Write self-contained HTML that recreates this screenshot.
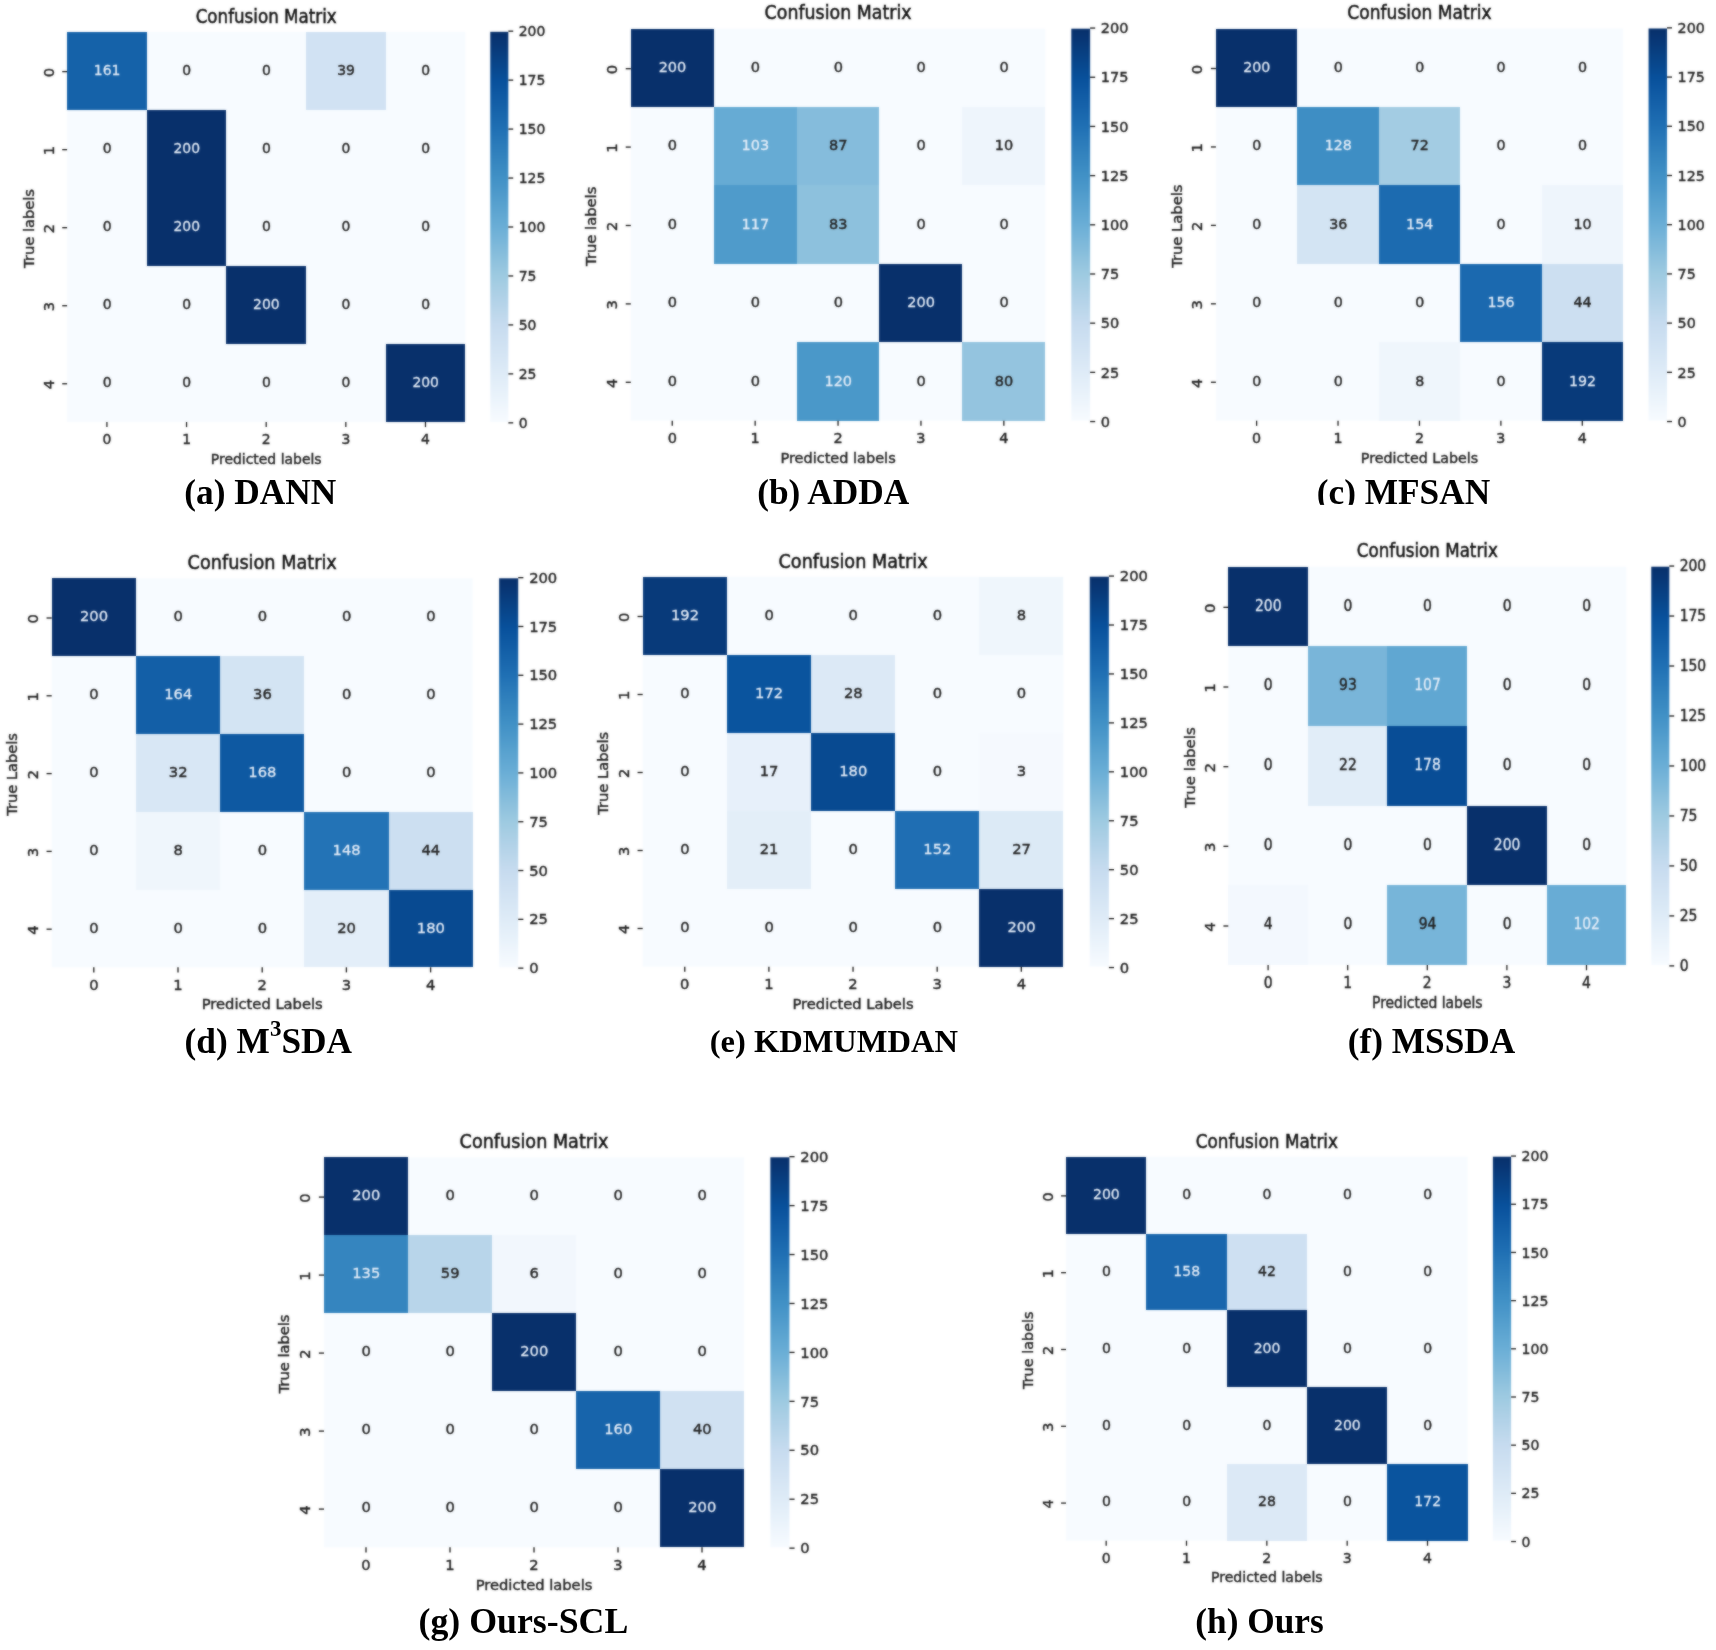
<!DOCTYPE html>
<html lang="en"><head><meta charset="utf-8"><title>Confusion Matrices</title>
<style>html,body{margin:0;padding:0;background:#fff}body{width:1716px;height:1650px;overflow:hidden}svg{display:block}text{font-family:"DejaVu Sans","Liberation Sans",sans-serif;font-size:13.89px;fill:#222;stroke:#222;stroke-width:0.4}.ti{font-size:16.67px;fill:#111;stroke:#111;stroke-width:0.45}.m{text-anchor:middle}.w{fill:#e6eef9;stroke:#e6eef9;stroke-width:0.25}.cap{font-family:"Liberation Serif","DejaVu Serif",serif;font-weight:bold;fill:#000;stroke:none;text-anchor:middle}line{stroke:#1a1a1a;stroke-width:1.25}.c{shape-rendering:crispEdges}</style></head><body>
<svg width="1716" height="1650" viewBox="0 0 1716 1650">
<defs><linearGradient id="blues" x1="0" y1="1" x2="0" y2="0">
<stop offset="0.0000" stop-color="#f7fbff"/>
<stop offset="0.0312" stop-color="#f1f7fd"/>
<stop offset="0.0625" stop-color="#eaf3fb"/>
<stop offset="0.0938" stop-color="#e4eff9"/>
<stop offset="0.1250" stop-color="#deebf7"/>
<stop offset="0.1562" stop-color="#d8e7f5"/>
<stop offset="0.1875" stop-color="#d2e3f3"/>
<stop offset="0.2188" stop-color="#ccdff1"/>
<stop offset="0.2500" stop-color="#c6dbef"/>
<stop offset="0.2812" stop-color="#bcd7eb"/>
<stop offset="0.3125" stop-color="#b2d2e8"/>
<stop offset="0.3438" stop-color="#a8cee4"/>
<stop offset="0.3750" stop-color="#9dcae1"/>
<stop offset="0.4062" stop-color="#91c3de"/>
<stop offset="0.4375" stop-color="#84bcdb"/>
<stop offset="0.4688" stop-color="#77b5d9"/>
<stop offset="0.5000" stop-color="#6aaed6"/>
<stop offset="0.5312" stop-color="#60a7d2"/>
<stop offset="0.5625" stop-color="#56a0ce"/>
<stop offset="0.5938" stop-color="#4b98ca"/>
<stop offset="0.6250" stop-color="#4191c6"/>
<stop offset="0.6562" stop-color="#3989c1"/>
<stop offset="0.6875" stop-color="#3181bd"/>
<stop offset="0.7188" stop-color="#2979b9"/>
<stop offset="0.7500" stop-color="#2070b4"/>
<stop offset="0.7812" stop-color="#1a68ae"/>
<stop offset="0.8125" stop-color="#1460a8"/>
<stop offset="0.8438" stop-color="#0e58a2"/>
<stop offset="0.8750" stop-color="#08509b"/>
<stop offset="0.9062" stop-color="#08488e"/>
<stop offset="0.9375" stop-color="#084082"/>
<stop offset="0.9688" stop-color="#083776"/>
<stop offset="1.0000" stop-color="#08306b"/>
</linearGradient>
<filter id="bl" color-interpolation-filters="sRGB" x="0" y="0" width="1716" height="1650" filterUnits="userSpaceOnUse"><feGaussianBlur in="SourceGraphic" stdDeviation="0.9" result="b"/><feComposite in="SourceGraphic" in2="b" operator="arithmetic" k1="0" k2="0.45" k3="0.55" k4="0"/></filter></defs>
<g filter="url(#bl)">
<rect width="1716" height="1650" fill="#fff"/>
<g transform="translate(67.1 31.8) scale(1.0035 1.0557)">
<rect width="396.8" height="369.6" fill="#f7fbff"/>
<rect class="c" x="0" y="0" width="79.36" height="73.92" fill="#1562a9"/>
<rect class="c" x="238.08" y="0" width="79.36" height="73.92" fill="#d1e2f3"/>
<rect class="c" x="79.36" y="73.92" width="79.36" height="73.92" fill="#08306b"/>
<rect class="c" x="79.36" y="147.84" width="79.36" height="73.92" fill="#08306b"/>
<rect class="c" x="158.72" y="221.76" width="79.36" height="73.92" fill="#08306b"/>
<rect class="c" x="317.44" y="295.68" width="79.36" height="73.92" fill="#08306b"/>
<text class="m w" transform="translate(39.88 40.86) scale(1 1)">161</text>
<text class="m" transform="translate(119.24 40.86) scale(1 1)">0</text>
<text class="m" transform="translate(198.6 40.86) scale(1 1)">0</text>
<text class="m" transform="translate(277.96 40.86) scale(1 1)">39</text>
<text class="m" transform="translate(357.32 40.86) scale(1 1)">0</text>
<text class="m" transform="translate(39.88 114.78) scale(1 1)">0</text>
<text class="m w" transform="translate(119.24 114.78) scale(1 1)">200</text>
<text class="m" transform="translate(198.6 114.78) scale(1 1)">0</text>
<text class="m" transform="translate(277.96 114.78) scale(1 1)">0</text>
<text class="m" transform="translate(357.32 114.78) scale(1 1)">0</text>
<text class="m" transform="translate(39.88 188.7) scale(1 1)">0</text>
<text class="m w" transform="translate(119.24 188.7) scale(1 1)">200</text>
<text class="m" transform="translate(198.6 188.7) scale(1 1)">0</text>
<text class="m" transform="translate(277.96 188.7) scale(1 1)">0</text>
<text class="m" transform="translate(357.32 188.7) scale(1 1)">0</text>
<text class="m" transform="translate(39.88 262.62) scale(1 1)">0</text>
<text class="m" transform="translate(119.24 262.62) scale(1 1)">0</text>
<text class="m w" transform="translate(198.6 262.62) scale(1 1)">200</text>
<text class="m" transform="translate(277.96 262.62) scale(1 1)">0</text>
<text class="m" transform="translate(357.32 262.62) scale(1 1)">0</text>
<text class="m" transform="translate(39.88 336.54) scale(1 1)">0</text>
<text class="m" transform="translate(119.24 336.54) scale(1 1)">0</text>
<text class="m" transform="translate(198.6 336.54) scale(1 1)">0</text>
<text class="m" transform="translate(277.96 336.54) scale(1 1)">0</text>
<text class="m w" transform="translate(357.32 336.54) scale(1 1)">200</text>
<text class="ti m" transform="translate(198.4 -8.7) scale(1 1.11)">Confusion Matrix</text>
<line x1="39.68" y1="369.6" x2="39.68" y2="374.46"/>
<text class="m" transform="translate(39.68 390.8) scale(1 1)">0</text>
<line x1="-4.86" y1="37.71" x2="-0" y2="37.71"/>
<text class="m" transform="translate(-13.1 38.61) rotate(-90) scale(1 1)">0</text>
<line x1="119.04" y1="369.6" x2="119.04" y2="374.46"/>
<text class="m" transform="translate(119.04 390.8) scale(1 1)">1</text>
<line x1="-4.86" y1="111.63" x2="-0" y2="111.63"/>
<text class="m" transform="translate(-13.1 112.53) rotate(-90) scale(1 1)">1</text>
<line x1="198.4" y1="369.6" x2="198.4" y2="374.46"/>
<text class="m" transform="translate(198.4 390.8) scale(1 1)">2</text>
<line x1="-4.86" y1="185.55" x2="-0" y2="185.55"/>
<text class="m" transform="translate(-13.1 186.45) rotate(-90) scale(1 1)">2</text>
<line x1="277.76" y1="369.6" x2="277.76" y2="374.46"/>
<text class="m" transform="translate(277.76 390.8) scale(1 1)">3</text>
<line x1="-4.86" y1="259.47" x2="-0" y2="259.47"/>
<text class="m" transform="translate(-13.1 260.37) rotate(-90) scale(1 1)">3</text>
<line x1="357.12" y1="369.6" x2="357.12" y2="374.46"/>
<text class="m" transform="translate(357.12 390.8) scale(1 1)">4</text>
<line x1="-4.86" y1="333.39" x2="-0" y2="333.39"/>
<text class="m" transform="translate(-13.1 334.29) rotate(-90) scale(1 1)">4</text>
<text class="m" transform="translate(198.4 409.6) scale(1 1)">Predicted labels</text>
<text class="m" transform="translate(-33 186.3) rotate(-90) scale(1 1)">True labels</text>
<rect x="421.7" y="0" width="18" height="369.6" fill="url(#blues)"/>
<line x1="439.7" y1="370.4" x2="444.56" y2="370.4"/>
<text transform="translate(450 375.3) scale(1 1)">0</text>
<line x1="439.7" y1="324.03" x2="444.56" y2="324.03"/>
<text transform="translate(450 328.93) scale(1 1)">25</text>
<line x1="439.7" y1="277.65" x2="444.56" y2="277.65"/>
<text transform="translate(450 282.55) scale(1 1)">50</text>
<line x1="439.7" y1="231.28" x2="444.56" y2="231.28"/>
<text transform="translate(450 236.18) scale(1 1)">75</text>
<line x1="439.7" y1="184.9" x2="444.56" y2="184.9"/>
<text transform="translate(450 189.8) scale(1 1)">100</text>
<line x1="439.7" y1="138.53" x2="444.56" y2="138.53"/>
<text transform="translate(450 143.43) scale(1 1)">125</text>
<line x1="439.7" y1="92.15" x2="444.56" y2="92.15"/>
<text transform="translate(450 97.05) scale(1 1)">150</text>
<line x1="439.7" y1="45.78" x2="444.56" y2="45.78"/>
<text transform="translate(450 50.68) scale(1 1)">175</text>
<line x1="439.7" y1="-0.6" x2="444.56" y2="-0.6"/>
<text transform="translate(450 4.3) scale(1 1)">200</text>
</g>
<g transform="translate(630.8 28.7) scale(1.0446 1.0606)">
<rect width="396.8" height="369.6" fill="#f7fbff"/>
<rect class="c" x="0" y="0" width="79.36" height="73.92" fill="#08306b"/>
<rect class="c" x="79.36" y="73.92" width="79.36" height="73.92" fill="#66abd4"/>
<rect class="c" x="158.72" y="73.92" width="79.36" height="73.92" fill="#85bcdc"/>
<rect class="c" x="317.44" y="73.92" width="79.36" height="73.92" fill="#eef5fc"/>
<rect class="c" x="79.36" y="147.84" width="79.36" height="73.92" fill="#4f9bcb"/>
<rect class="c" x="158.72" y="147.84" width="79.36" height="73.92" fill="#8dc1dd"/>
<rect class="c" x="238.08" y="221.76" width="79.36" height="73.92" fill="#08306b"/>
<rect class="c" x="158.72" y="295.68" width="79.36" height="73.92" fill="#4a98c9"/>
<rect class="c" x="317.44" y="295.68" width="79.36" height="73.92" fill="#94c4df"/>
<text class="m w" transform="translate(39.88 40.86) scale(1 1)">200</text>
<text class="m" transform="translate(119.24 40.86) scale(1 1)">0</text>
<text class="m" transform="translate(198.6 40.86) scale(1 1)">0</text>
<text class="m" transform="translate(277.96 40.86) scale(1 1)">0</text>
<text class="m" transform="translate(357.32 40.86) scale(1 1)">0</text>
<text class="m" transform="translate(39.88 114.78) scale(1 1)">0</text>
<text class="m w" transform="translate(119.24 114.78) scale(1 1)">103</text>
<text class="m" transform="translate(198.6 114.78) scale(1 1)">87</text>
<text class="m" transform="translate(277.96 114.78) scale(1 1)">0</text>
<text class="m" transform="translate(357.32 114.78) scale(1 1)">10</text>
<text class="m" transform="translate(39.88 188.7) scale(1 1)">0</text>
<text class="m w" transform="translate(119.24 188.7) scale(1 1)">117</text>
<text class="m" transform="translate(198.6 188.7) scale(1 1)">83</text>
<text class="m" transform="translate(277.96 188.7) scale(1 1)">0</text>
<text class="m" transform="translate(357.32 188.7) scale(1 1)">0</text>
<text class="m" transform="translate(39.88 262.62) scale(1 1)">0</text>
<text class="m" transform="translate(119.24 262.62) scale(1 1)">0</text>
<text class="m" transform="translate(198.6 262.62) scale(1 1)">0</text>
<text class="m w" transform="translate(277.96 262.62) scale(1 1)">200</text>
<text class="m" transform="translate(357.32 262.62) scale(1 1)">0</text>
<text class="m" transform="translate(39.88 336.54) scale(1 1)">0</text>
<text class="m" transform="translate(119.24 336.54) scale(1 1)">0</text>
<text class="m w" transform="translate(198.6 336.54) scale(1 1)">120</text>
<text class="m" transform="translate(277.96 336.54) scale(1 1)">0</text>
<text class="m" transform="translate(357.32 336.54) scale(1 1)">80</text>
<text class="ti m" transform="translate(198.4 -8.7) scale(1 1.11)">Confusion Matrix</text>
<line x1="39.68" y1="369.6" x2="39.68" y2="374.46"/>
<text class="m" transform="translate(39.68 390.8) scale(1 1)">0</text>
<line x1="-4.86" y1="37.71" x2="-0" y2="37.71"/>
<text class="m" transform="translate(-13.1 38.61) rotate(-90) scale(1 1)">0</text>
<line x1="119.04" y1="369.6" x2="119.04" y2="374.46"/>
<text class="m" transform="translate(119.04 390.8) scale(1 1)">1</text>
<line x1="-4.86" y1="111.63" x2="-0" y2="111.63"/>
<text class="m" transform="translate(-13.1 112.53) rotate(-90) scale(1 1)">1</text>
<line x1="198.4" y1="369.6" x2="198.4" y2="374.46"/>
<text class="m" transform="translate(198.4 390.8) scale(1 1)">2</text>
<line x1="-4.86" y1="185.55" x2="-0" y2="185.55"/>
<text class="m" transform="translate(-13.1 186.45) rotate(-90) scale(1 1)">2</text>
<line x1="277.76" y1="369.6" x2="277.76" y2="374.46"/>
<text class="m" transform="translate(277.76 390.8) scale(1 1)">3</text>
<line x1="-4.86" y1="259.47" x2="-0" y2="259.47"/>
<text class="m" transform="translate(-13.1 260.37) rotate(-90) scale(1 1)">3</text>
<line x1="357.12" y1="369.6" x2="357.12" y2="374.46"/>
<text class="m" transform="translate(357.12 390.8) scale(1 1)">4</text>
<line x1="-4.86" y1="333.39" x2="-0" y2="333.39"/>
<text class="m" transform="translate(-13.1 334.29) rotate(-90) scale(1 1)">4</text>
<text class="m" transform="translate(198.4 409.6) scale(1 1)">Predicted labels</text>
<text class="m" transform="translate(-33 186.3) rotate(-90) scale(1 1)">True labels</text>
<rect x="421.7" y="0" width="18" height="369.6" fill="url(#blues)"/>
<line x1="439.7" y1="370.4" x2="444.56" y2="370.4"/>
<text transform="translate(450 375.3) scale(1 1)">0</text>
<line x1="439.7" y1="324.03" x2="444.56" y2="324.03"/>
<text transform="translate(450 328.93) scale(1 1)">25</text>
<line x1="439.7" y1="277.65" x2="444.56" y2="277.65"/>
<text transform="translate(450 282.55) scale(1 1)">50</text>
<line x1="439.7" y1="231.28" x2="444.56" y2="231.28"/>
<text transform="translate(450 236.18) scale(1 1)">75</text>
<line x1="439.7" y1="184.9" x2="444.56" y2="184.9"/>
<text transform="translate(450 189.8) scale(1 1)">100</text>
<line x1="439.7" y1="138.53" x2="444.56" y2="138.53"/>
<text transform="translate(450 143.43) scale(1 1)">125</text>
<line x1="439.7" y1="92.15" x2="444.56" y2="92.15"/>
<text transform="translate(450 97.05) scale(1 1)">150</text>
<line x1="439.7" y1="45.78" x2="444.56" y2="45.78"/>
<text transform="translate(450 50.68) scale(1 1)">175</text>
<line x1="439.7" y1="-0.6" x2="444.56" y2="-0.6"/>
<text transform="translate(450 4.3) scale(1 1)">200</text>
</g>
<g transform="translate(1215.9 28.5) scale(1.0260 1.0611)">
<rect width="396.8" height="369.6" fill="#f7fbff"/>
<rect class="c" x="0" y="0" width="79.36" height="73.92" fill="#08306b"/>
<rect class="c" x="79.36" y="73.92" width="79.36" height="73.92" fill="#3e8ec4"/>
<rect class="c" x="158.72" y="73.92" width="79.36" height="73.92" fill="#a3cce3"/>
<rect class="c" x="79.36" y="147.84" width="79.36" height="73.92" fill="#d3e4f3"/>
<rect class="c" x="158.72" y="147.84" width="79.36" height="73.92" fill="#1c6bb0"/>
<rect class="c" x="317.44" y="147.84" width="79.36" height="73.92" fill="#eef5fc"/>
<rect class="c" x="238.08" y="221.76" width="79.36" height="73.92" fill="#1b69af"/>
<rect class="c" x="317.44" y="221.76" width="79.36" height="73.92" fill="#ccdff1"/>
<rect class="c" x="158.72" y="295.68" width="79.36" height="73.92" fill="#eff6fc"/>
<rect class="c" x="317.44" y="295.68" width="79.36" height="73.92" fill="#083a7a"/>
<text class="m w" transform="translate(39.88 40.86) scale(1 1)">200</text>
<text class="m" transform="translate(119.24 40.86) scale(1 1)">0</text>
<text class="m" transform="translate(198.6 40.86) scale(1 1)">0</text>
<text class="m" transform="translate(277.96 40.86) scale(1 1)">0</text>
<text class="m" transform="translate(357.32 40.86) scale(1 1)">0</text>
<text class="m" transform="translate(39.88 114.78) scale(1 1)">0</text>
<text class="m w" transform="translate(119.24 114.78) scale(1 1)">128</text>
<text class="m" transform="translate(198.6 114.78) scale(1 1)">72</text>
<text class="m" transform="translate(277.96 114.78) scale(1 1)">0</text>
<text class="m" transform="translate(357.32 114.78) scale(1 1)">0</text>
<text class="m" transform="translate(39.88 188.7) scale(1 1)">0</text>
<text class="m" transform="translate(119.24 188.7) scale(1 1)">36</text>
<text class="m w" transform="translate(198.6 188.7) scale(1 1)">154</text>
<text class="m" transform="translate(277.96 188.7) scale(1 1)">0</text>
<text class="m" transform="translate(357.32 188.7) scale(1 1)">10</text>
<text class="m" transform="translate(39.88 262.62) scale(1 1)">0</text>
<text class="m" transform="translate(119.24 262.62) scale(1 1)">0</text>
<text class="m" transform="translate(198.6 262.62) scale(1 1)">0</text>
<text class="m w" transform="translate(277.96 262.62) scale(1 1)">156</text>
<text class="m" transform="translate(357.32 262.62) scale(1 1)">44</text>
<text class="m" transform="translate(39.88 336.54) scale(1 1)">0</text>
<text class="m" transform="translate(119.24 336.54) scale(1 1)">0</text>
<text class="m" transform="translate(198.6 336.54) scale(1 1)">8</text>
<text class="m" transform="translate(277.96 336.54) scale(1 1)">0</text>
<text class="m w" transform="translate(357.32 336.54) scale(1 1)">192</text>
<text class="ti m" transform="translate(198.4 -8.7) scale(1 1.11)">Confusion Matrix</text>
<line x1="39.68" y1="369.6" x2="39.68" y2="374.46"/>
<text class="m" transform="translate(39.68 390.8) scale(1 1)">0</text>
<line x1="-4.86" y1="37.71" x2="-0" y2="37.71"/>
<text class="m" transform="translate(-13.1 38.61) rotate(-90) scale(1 1)">0</text>
<line x1="119.04" y1="369.6" x2="119.04" y2="374.46"/>
<text class="m" transform="translate(119.04 390.8) scale(1 1)">1</text>
<line x1="-4.86" y1="111.63" x2="-0" y2="111.63"/>
<text class="m" transform="translate(-13.1 112.53) rotate(-90) scale(1 1)">1</text>
<line x1="198.4" y1="369.6" x2="198.4" y2="374.46"/>
<text class="m" transform="translate(198.4 390.8) scale(1 1)">2</text>
<line x1="-4.86" y1="185.55" x2="-0" y2="185.55"/>
<text class="m" transform="translate(-13.1 186.45) rotate(-90) scale(1 1)">2</text>
<line x1="277.76" y1="369.6" x2="277.76" y2="374.46"/>
<text class="m" transform="translate(277.76 390.8) scale(1 1)">3</text>
<line x1="-4.86" y1="259.47" x2="-0" y2="259.47"/>
<text class="m" transform="translate(-13.1 260.37) rotate(-90) scale(1 1)">3</text>
<line x1="357.12" y1="369.6" x2="357.12" y2="374.46"/>
<text class="m" transform="translate(357.12 390.8) scale(1 1)">4</text>
<line x1="-4.86" y1="333.39" x2="-0" y2="333.39"/>
<text class="m" transform="translate(-13.1 334.29) rotate(-90) scale(1 1)">4</text>
<text class="m" transform="translate(198.4 409.6) scale(1 1)">Predicted Labels</text>
<text class="m" transform="translate(-33 186.3) rotate(-90) scale(1 1)">True Labels</text>
<rect x="421.7" y="0" width="18" height="369.6" fill="url(#blues)"/>
<line x1="439.7" y1="370.4" x2="444.56" y2="370.4"/>
<text transform="translate(450 375.3) scale(1 1)">0</text>
<line x1="439.7" y1="324.03" x2="444.56" y2="324.03"/>
<text transform="translate(450 328.93) scale(1 1)">25</text>
<line x1="439.7" y1="277.65" x2="444.56" y2="277.65"/>
<text transform="translate(450 282.55) scale(1 1)">50</text>
<line x1="439.7" y1="231.28" x2="444.56" y2="231.28"/>
<text transform="translate(450 236.18) scale(1 1)">75</text>
<line x1="439.7" y1="184.9" x2="444.56" y2="184.9"/>
<text transform="translate(450 189.8) scale(1 1)">100</text>
<line x1="439.7" y1="138.53" x2="444.56" y2="138.53"/>
<text transform="translate(450 143.43) scale(1 1)">125</text>
<line x1="439.7" y1="92.15" x2="444.56" y2="92.15"/>
<text transform="translate(450 97.05) scale(1 1)">150</text>
<line x1="439.7" y1="45.78" x2="444.56" y2="45.78"/>
<text transform="translate(450 50.68) scale(1 1)">175</text>
<line x1="439.7" y1="-0.6" x2="444.56" y2="-0.6"/>
<text transform="translate(450 4.3) scale(1 1)">200</text>
</g>
<g transform="translate(51.7 578.3) scale(1.0610 1.0525)">
<rect width="396.8" height="369.6" fill="#f7fbff"/>
<rect class="c" x="0" y="0" width="79.36" height="73.92" fill="#08306b"/>
<rect class="c" x="79.36" y="73.92" width="79.36" height="73.92" fill="#135fa7"/>
<rect class="c" x="158.72" y="73.92" width="79.36" height="73.92" fill="#d3e4f3"/>
<rect class="c" x="79.36" y="147.84" width="79.36" height="73.92" fill="#d8e7f5"/>
<rect class="c" x="158.72" y="147.84" width="79.36" height="73.92" fill="#0e59a2"/>
<rect class="c" x="79.36" y="221.76" width="79.36" height="73.92" fill="#eff6fc"/>
<rect class="c" x="238.08" y="221.76" width="79.36" height="73.92" fill="#2373b6"/>
<rect class="c" x="317.44" y="221.76" width="79.36" height="73.92" fill="#ccdff1"/>
<rect class="c" x="238.08" y="295.68" width="79.36" height="73.92" fill="#e3eef9"/>
<rect class="c" x="317.44" y="295.68" width="79.36" height="73.92" fill="#084a91"/>
<text class="m w" transform="translate(39.88 40.86) scale(1 1)">200</text>
<text class="m" transform="translate(119.24 40.86) scale(1 1)">0</text>
<text class="m" transform="translate(198.6 40.86) scale(1 1)">0</text>
<text class="m" transform="translate(277.96 40.86) scale(1 1)">0</text>
<text class="m" transform="translate(357.32 40.86) scale(1 1)">0</text>
<text class="m" transform="translate(39.88 114.78) scale(1 1)">0</text>
<text class="m w" transform="translate(119.24 114.78) scale(1 1)">164</text>
<text class="m" transform="translate(198.6 114.78) scale(1 1)">36</text>
<text class="m" transform="translate(277.96 114.78) scale(1 1)">0</text>
<text class="m" transform="translate(357.32 114.78) scale(1 1)">0</text>
<text class="m" transform="translate(39.88 188.7) scale(1 1)">0</text>
<text class="m" transform="translate(119.24 188.7) scale(1 1)">32</text>
<text class="m w" transform="translate(198.6 188.7) scale(1 1)">168</text>
<text class="m" transform="translate(277.96 188.7) scale(1 1)">0</text>
<text class="m" transform="translate(357.32 188.7) scale(1 1)">0</text>
<text class="m" transform="translate(39.88 262.62) scale(1 1)">0</text>
<text class="m" transform="translate(119.24 262.62) scale(1 1)">8</text>
<text class="m" transform="translate(198.6 262.62) scale(1 1)">0</text>
<text class="m w" transform="translate(277.96 262.62) scale(1 1)">148</text>
<text class="m" transform="translate(357.32 262.62) scale(1 1)">44</text>
<text class="m" transform="translate(39.88 336.54) scale(1 1)">0</text>
<text class="m" transform="translate(119.24 336.54) scale(1 1)">0</text>
<text class="m" transform="translate(198.6 336.54) scale(1 1)">0</text>
<text class="m" transform="translate(277.96 336.54) scale(1 1)">20</text>
<text class="m w" transform="translate(357.32 336.54) scale(1 1)">180</text>
<text class="ti m" transform="translate(198.4 -8.7) scale(1 1.11)">Confusion Matrix</text>
<line x1="39.68" y1="369.6" x2="39.68" y2="374.46"/>
<text class="m" transform="translate(39.68 390.8) scale(1 1)">0</text>
<line x1="-4.86" y1="37.71" x2="-0" y2="37.71"/>
<text class="m" transform="translate(-13.1 38.61) rotate(-90) scale(1 1)">0</text>
<line x1="119.04" y1="369.6" x2="119.04" y2="374.46"/>
<text class="m" transform="translate(119.04 390.8) scale(1 1)">1</text>
<line x1="-4.86" y1="111.63" x2="-0" y2="111.63"/>
<text class="m" transform="translate(-13.1 112.53) rotate(-90) scale(1 1)">1</text>
<line x1="198.4" y1="369.6" x2="198.4" y2="374.46"/>
<text class="m" transform="translate(198.4 390.8) scale(1 1)">2</text>
<line x1="-4.86" y1="185.55" x2="-0" y2="185.55"/>
<text class="m" transform="translate(-13.1 186.45) rotate(-90) scale(1 1)">2</text>
<line x1="277.76" y1="369.6" x2="277.76" y2="374.46"/>
<text class="m" transform="translate(277.76 390.8) scale(1 1)">3</text>
<line x1="-4.86" y1="259.47" x2="-0" y2="259.47"/>
<text class="m" transform="translate(-13.1 260.37) rotate(-90) scale(1 1)">3</text>
<line x1="357.12" y1="369.6" x2="357.12" y2="374.46"/>
<text class="m" transform="translate(357.12 390.8) scale(1 1)">4</text>
<line x1="-4.86" y1="333.39" x2="-0" y2="333.39"/>
<text class="m" transform="translate(-13.1 334.29) rotate(-90) scale(1 1)">4</text>
<text class="m" transform="translate(198.4 409.6) scale(1 1)">Predicted Labels</text>
<text class="m" transform="translate(-33 186.3) rotate(-90) scale(1 1)">True Labels</text>
<rect x="421.7" y="0" width="18" height="369.6" fill="url(#blues)"/>
<line x1="439.7" y1="370.4" x2="444.56" y2="370.4"/>
<text transform="translate(450 375.3) scale(1 1)">0</text>
<line x1="439.7" y1="324.03" x2="444.56" y2="324.03"/>
<text transform="translate(450 328.93) scale(1 1)">25</text>
<line x1="439.7" y1="277.65" x2="444.56" y2="277.65"/>
<text transform="translate(450 282.55) scale(1 1)">50</text>
<line x1="439.7" y1="231.28" x2="444.56" y2="231.28"/>
<text transform="translate(450 236.18) scale(1 1)">75</text>
<line x1="439.7" y1="184.9" x2="444.56" y2="184.9"/>
<text transform="translate(450 189.8) scale(1 1)">100</text>
<line x1="439.7" y1="138.53" x2="444.56" y2="138.53"/>
<text transform="translate(450 143.43) scale(1 1)">125</text>
<line x1="439.7" y1="92.15" x2="444.56" y2="92.15"/>
<text transform="translate(450 97.05) scale(1 1)">150</text>
<line x1="439.7" y1="45.78" x2="444.56" y2="45.78"/>
<text transform="translate(450 50.68) scale(1 1)">175</text>
<line x1="439.7" y1="-0.6" x2="444.56" y2="-0.6"/>
<text transform="translate(450 4.3) scale(1 1)">200</text>
</g>
<g transform="translate(642.7 576.7) scale(1.0602 1.0552)">
<rect width="396.8" height="369.6" fill="#f7fbff"/>
<rect class="c" x="0" y="0" width="79.36" height="73.92" fill="#083a7a"/>
<rect class="c" x="317.44" y="0" width="79.36" height="73.92" fill="#eff6fc"/>
<rect class="c" x="79.36" y="73.92" width="79.36" height="73.92" fill="#0a549e"/>
<rect class="c" x="158.72" y="73.92" width="79.36" height="73.92" fill="#dce9f6"/>
<rect class="c" x="79.36" y="147.84" width="79.36" height="73.92" fill="#e7f0fa"/>
<rect class="c" x="158.72" y="147.84" width="79.36" height="73.92" fill="#084a91"/>
<rect class="c" x="317.44" y="147.84" width="79.36" height="73.92" fill="#f5f9fe"/>
<rect class="c" x="79.36" y="221.76" width="79.36" height="73.92" fill="#e3eef8"/>
<rect class="c" x="238.08" y="221.76" width="79.36" height="73.92" fill="#1f6eb3"/>
<rect class="c" x="317.44" y="221.76" width="79.36" height="73.92" fill="#dceaf6"/>
<rect class="c" x="317.44" y="295.68" width="79.36" height="73.92" fill="#08306b"/>
<text class="m w" transform="translate(39.88 40.86) scale(1 1)">192</text>
<text class="m" transform="translate(119.24 40.86) scale(1 1)">0</text>
<text class="m" transform="translate(198.6 40.86) scale(1 1)">0</text>
<text class="m" transform="translate(277.96 40.86) scale(1 1)">0</text>
<text class="m" transform="translate(357.32 40.86) scale(1 1)">8</text>
<text class="m" transform="translate(39.88 114.78) scale(1 1)">0</text>
<text class="m w" transform="translate(119.24 114.78) scale(1 1)">172</text>
<text class="m" transform="translate(198.6 114.78) scale(1 1)">28</text>
<text class="m" transform="translate(277.96 114.78) scale(1 1)">0</text>
<text class="m" transform="translate(357.32 114.78) scale(1 1)">0</text>
<text class="m" transform="translate(39.88 188.7) scale(1 1)">0</text>
<text class="m" transform="translate(119.24 188.7) scale(1 1)">17</text>
<text class="m w" transform="translate(198.6 188.7) scale(1 1)">180</text>
<text class="m" transform="translate(277.96 188.7) scale(1 1)">0</text>
<text class="m" transform="translate(357.32 188.7) scale(1 1)">3</text>
<text class="m" transform="translate(39.88 262.62) scale(1 1)">0</text>
<text class="m" transform="translate(119.24 262.62) scale(1 1)">21</text>
<text class="m" transform="translate(198.6 262.62) scale(1 1)">0</text>
<text class="m w" transform="translate(277.96 262.62) scale(1 1)">152</text>
<text class="m" transform="translate(357.32 262.62) scale(1 1)">27</text>
<text class="m" transform="translate(39.88 336.54) scale(1 1)">0</text>
<text class="m" transform="translate(119.24 336.54) scale(1 1)">0</text>
<text class="m" transform="translate(198.6 336.54) scale(1 1)">0</text>
<text class="m" transform="translate(277.96 336.54) scale(1 1)">0</text>
<text class="m w" transform="translate(357.32 336.54) scale(1 1)">200</text>
<text class="ti m" transform="translate(198.4 -8.7) scale(1 1.11)">Confusion Matrix</text>
<line x1="39.68" y1="369.6" x2="39.68" y2="374.46"/>
<text class="m" transform="translate(39.68 390.8) scale(1 1)">0</text>
<line x1="-4.86" y1="37.71" x2="-0" y2="37.71"/>
<text class="m" transform="translate(-13.1 38.61) rotate(-90) scale(1 1)">0</text>
<line x1="119.04" y1="369.6" x2="119.04" y2="374.46"/>
<text class="m" transform="translate(119.04 390.8) scale(1 1)">1</text>
<line x1="-4.86" y1="111.63" x2="-0" y2="111.63"/>
<text class="m" transform="translate(-13.1 112.53) rotate(-90) scale(1 1)">1</text>
<line x1="198.4" y1="369.6" x2="198.4" y2="374.46"/>
<text class="m" transform="translate(198.4 390.8) scale(1 1)">2</text>
<line x1="-4.86" y1="185.55" x2="-0" y2="185.55"/>
<text class="m" transform="translate(-13.1 186.45) rotate(-90) scale(1 1)">2</text>
<line x1="277.76" y1="369.6" x2="277.76" y2="374.46"/>
<text class="m" transform="translate(277.76 390.8) scale(1 1)">3</text>
<line x1="-4.86" y1="259.47" x2="-0" y2="259.47"/>
<text class="m" transform="translate(-13.1 260.37) rotate(-90) scale(1 1)">3</text>
<line x1="357.12" y1="369.6" x2="357.12" y2="374.46"/>
<text class="m" transform="translate(357.12 390.8) scale(1 1)">4</text>
<line x1="-4.86" y1="333.39" x2="-0" y2="333.39"/>
<text class="m" transform="translate(-13.1 334.29) rotate(-90) scale(1 1)">4</text>
<text class="m" transform="translate(198.4 409.6) scale(1 1)">Predicted Labels</text>
<text class="m" transform="translate(-33 186.3) rotate(-90) scale(1 1)">True Labels</text>
<rect x="421.7" y="0" width="18" height="369.6" fill="url(#blues)"/>
<line x1="439.7" y1="370.4" x2="444.56" y2="370.4"/>
<text transform="translate(450 375.3) scale(1 1)">0</text>
<line x1="439.7" y1="324.03" x2="444.56" y2="324.03"/>
<text transform="translate(450 328.93) scale(1 1)">25</text>
<line x1="439.7" y1="277.65" x2="444.56" y2="277.65"/>
<text transform="translate(450 282.55) scale(1 1)">50</text>
<line x1="439.7" y1="231.28" x2="444.56" y2="231.28"/>
<text transform="translate(450 236.18) scale(1 1)">75</text>
<line x1="439.7" y1="184.9" x2="444.56" y2="184.9"/>
<text transform="translate(450 189.8) scale(1 1)">100</text>
<line x1="439.7" y1="138.53" x2="444.56" y2="138.53"/>
<text transform="translate(450 143.43) scale(1 1)">125</text>
<line x1="439.7" y1="92.15" x2="444.56" y2="92.15"/>
<text transform="translate(450 97.05) scale(1 1)">150</text>
<line x1="439.7" y1="45.78" x2="444.56" y2="45.78"/>
<text transform="translate(450 50.68) scale(1 1)">175</text>
<line x1="439.7" y1="-0.6" x2="444.56" y2="-0.6"/>
<text transform="translate(450 4.3) scale(1 1)">200</text>
</g>
<g transform="translate(1228.3 566.7) scale(1.0030 1.0777)">
<rect width="396.8" height="369.6" fill="#f7fbff"/>
<rect class="c" x="0" y="0" width="79.36" height="73.92" fill="#08306b"/>
<rect class="c" x="79.36" y="73.92" width="79.36" height="73.92" fill="#79b5d9"/>
<rect class="c" x="158.72" y="73.92" width="79.36" height="73.92" fill="#60a7d2"/>
<rect class="c" x="79.36" y="147.84" width="79.36" height="73.92" fill="#e1edf8"/>
<rect class="c" x="158.72" y="147.84" width="79.36" height="73.92" fill="#084d96"/>
<rect class="c" x="238.08" y="221.76" width="79.36" height="73.92" fill="#08306b"/>
<rect class="c" x="0" y="295.68" width="79.36" height="73.92" fill="#f3f8fe"/>
<rect class="c" x="158.72" y="295.68" width="79.36" height="73.92" fill="#77b5d9"/>
<rect class="c" x="317.44" y="295.68" width="79.36" height="73.92" fill="#68acd5"/>
<text class="m w" transform="translate(39.88 40.86) scale(1 1)">200</text>
<text class="m" transform="translate(119.24 40.86) scale(1 1)">0</text>
<text class="m" transform="translate(198.6 40.86) scale(1 1)">0</text>
<text class="m" transform="translate(277.96 40.86) scale(1 1)">0</text>
<text class="m" transform="translate(357.32 40.86) scale(1 1)">0</text>
<text class="m" transform="translate(39.88 114.78) scale(1 1)">0</text>
<text class="m" transform="translate(119.24 114.78) scale(1 1)">93</text>
<text class="m w" transform="translate(198.6 114.78) scale(1 1)">107</text>
<text class="m" transform="translate(277.96 114.78) scale(1 1)">0</text>
<text class="m" transform="translate(357.32 114.78) scale(1 1)">0</text>
<text class="m" transform="translate(39.88 188.7) scale(1 1)">0</text>
<text class="m" transform="translate(119.24 188.7) scale(1 1)">22</text>
<text class="m w" transform="translate(198.6 188.7) scale(1 1)">178</text>
<text class="m" transform="translate(277.96 188.7) scale(1 1)">0</text>
<text class="m" transform="translate(357.32 188.7) scale(1 1)">0</text>
<text class="m" transform="translate(39.88 262.62) scale(1 1)">0</text>
<text class="m" transform="translate(119.24 262.62) scale(1 1)">0</text>
<text class="m" transform="translate(198.6 262.62) scale(1 1)">0</text>
<text class="m w" transform="translate(277.96 262.62) scale(1 1)">200</text>
<text class="m" transform="translate(357.32 262.62) scale(1 1)">0</text>
<text class="m" transform="translate(39.88 336.54) scale(1 1)">4</text>
<text class="m" transform="translate(119.24 336.54) scale(1 1)">0</text>
<text class="m" transform="translate(198.6 336.54) scale(1 1)">94</text>
<text class="m" transform="translate(277.96 336.54) scale(1 1)">0</text>
<text class="m w" transform="translate(357.32 336.54) scale(1 1)">102</text>
<text class="ti m" transform="translate(198.4 -8.7) scale(1 1.11)">Confusion Matrix</text>
<line x1="39.68" y1="369.6" x2="39.68" y2="374.46"/>
<text class="m" transform="translate(39.68 390.8) scale(1 1)">0</text>
<line x1="-4.86" y1="37.71" x2="-0" y2="37.71"/>
<text class="m" transform="translate(-13.1 38.61) rotate(-90) scale(1 1)">0</text>
<line x1="119.04" y1="369.6" x2="119.04" y2="374.46"/>
<text class="m" transform="translate(119.04 390.8) scale(1 1)">1</text>
<line x1="-4.86" y1="111.63" x2="-0" y2="111.63"/>
<text class="m" transform="translate(-13.1 112.53) rotate(-90) scale(1 1)">1</text>
<line x1="198.4" y1="369.6" x2="198.4" y2="374.46"/>
<text class="m" transform="translate(198.4 390.8) scale(1 1)">2</text>
<line x1="-4.86" y1="185.55" x2="-0" y2="185.55"/>
<text class="m" transform="translate(-13.1 186.45) rotate(-90) scale(1 1)">2</text>
<line x1="277.76" y1="369.6" x2="277.76" y2="374.46"/>
<text class="m" transform="translate(277.76 390.8) scale(1 1)">3</text>
<line x1="-4.86" y1="259.47" x2="-0" y2="259.47"/>
<text class="m" transform="translate(-13.1 260.37) rotate(-90) scale(1 1)">3</text>
<line x1="357.12" y1="369.6" x2="357.12" y2="374.46"/>
<text class="m" transform="translate(357.12 390.8) scale(1 1)">4</text>
<line x1="-4.86" y1="333.39" x2="-0" y2="333.39"/>
<text class="m" transform="translate(-13.1 334.29) rotate(-90) scale(1 1)">4</text>
<text class="m" transform="translate(198.4 409.6) scale(1 1)">Predicted labels</text>
<text class="m" transform="translate(-33 186.3) rotate(-90) scale(1 1)">True labels</text>
<rect x="421.7" y="0" width="18" height="369.6" fill="url(#blues)"/>
<line x1="439.7" y1="370.4" x2="444.56" y2="370.4"/>
<text transform="translate(450 375.3) scale(1 1)">0</text>
<line x1="439.7" y1="324.03" x2="444.56" y2="324.03"/>
<text transform="translate(450 328.93) scale(1 1)">25</text>
<line x1="439.7" y1="277.65" x2="444.56" y2="277.65"/>
<text transform="translate(450 282.55) scale(1 1)">50</text>
<line x1="439.7" y1="231.28" x2="444.56" y2="231.28"/>
<text transform="translate(450 236.18) scale(1 1)">75</text>
<line x1="439.7" y1="184.9" x2="444.56" y2="184.9"/>
<text transform="translate(450 189.8) scale(1 1)">100</text>
<line x1="439.7" y1="138.53" x2="444.56" y2="138.53"/>
<text transform="translate(450 143.43) scale(1 1)">125</text>
<line x1="439.7" y1="92.15" x2="444.56" y2="92.15"/>
<text transform="translate(450 97.05) scale(1 1)">150</text>
<line x1="439.7" y1="45.78" x2="444.56" y2="45.78"/>
<text transform="translate(450 50.68) scale(1 1)">175</text>
<line x1="439.7" y1="-0.6" x2="444.56" y2="-0.6"/>
<text transform="translate(450 4.3) scale(1 1)">200</text>
</g>
<g transform="translate(324 1157.3) scale(1.0585 1.0552)">
<rect width="396.8" height="369.6" fill="#f7fbff"/>
<rect class="c" x="0" y="0" width="79.36" height="73.92" fill="#08306b"/>
<rect class="c" x="0" y="73.92" width="79.36" height="73.92" fill="#3585bf"/>
<rect class="c" x="79.36" y="73.92" width="79.36" height="73.92" fill="#b8d5ea"/>
<rect class="c" x="158.72" y="73.92" width="79.36" height="73.92" fill="#f2f7fd"/>
<rect class="c" x="158.72" y="147.84" width="79.36" height="73.92" fill="#08306b"/>
<rect class="c" x="238.08" y="221.76" width="79.36" height="73.92" fill="#1764ab"/>
<rect class="c" x="317.44" y="221.76" width="79.36" height="73.92" fill="#d0e1f2"/>
<rect class="c" x="317.44" y="295.68" width="79.36" height="73.92" fill="#08306b"/>
<text class="m w" transform="translate(39.88 40.86) scale(1 1)">200</text>
<text class="m" transform="translate(119.24 40.86) scale(1 1)">0</text>
<text class="m" transform="translate(198.6 40.86) scale(1 1)">0</text>
<text class="m" transform="translate(277.96 40.86) scale(1 1)">0</text>
<text class="m" transform="translate(357.32 40.86) scale(1 1)">0</text>
<text class="m w" transform="translate(39.88 114.78) scale(1 1)">135</text>
<text class="m" transform="translate(119.24 114.78) scale(1 1)">59</text>
<text class="m" transform="translate(198.6 114.78) scale(1 1)">6</text>
<text class="m" transform="translate(277.96 114.78) scale(1 1)">0</text>
<text class="m" transform="translate(357.32 114.78) scale(1 1)">0</text>
<text class="m" transform="translate(39.88 188.7) scale(1 1)">0</text>
<text class="m" transform="translate(119.24 188.7) scale(1 1)">0</text>
<text class="m w" transform="translate(198.6 188.7) scale(1 1)">200</text>
<text class="m" transform="translate(277.96 188.7) scale(1 1)">0</text>
<text class="m" transform="translate(357.32 188.7) scale(1 1)">0</text>
<text class="m" transform="translate(39.88 262.62) scale(1 1)">0</text>
<text class="m" transform="translate(119.24 262.62) scale(1 1)">0</text>
<text class="m" transform="translate(198.6 262.62) scale(1 1)">0</text>
<text class="m w" transform="translate(277.96 262.62) scale(1 1)">160</text>
<text class="m" transform="translate(357.32 262.62) scale(1 1)">40</text>
<text class="m" transform="translate(39.88 336.54) scale(1 1)">0</text>
<text class="m" transform="translate(119.24 336.54) scale(1 1)">0</text>
<text class="m" transform="translate(198.6 336.54) scale(1 1)">0</text>
<text class="m" transform="translate(277.96 336.54) scale(1 1)">0</text>
<text class="m w" transform="translate(357.32 336.54) scale(1 1)">200</text>
<text class="ti m" transform="translate(198.4 -8.7) scale(1 1.11)">Confusion Matrix</text>
<line x1="39.68" y1="369.6" x2="39.68" y2="374.46"/>
<text class="m" transform="translate(39.68 390.8) scale(1 1)">0</text>
<line x1="-4.86" y1="37.71" x2="-0" y2="37.71"/>
<text class="m" transform="translate(-13.1 38.61) rotate(-90) scale(1 1)">0</text>
<line x1="119.04" y1="369.6" x2="119.04" y2="374.46"/>
<text class="m" transform="translate(119.04 390.8) scale(1 1)">1</text>
<line x1="-4.86" y1="111.63" x2="-0" y2="111.63"/>
<text class="m" transform="translate(-13.1 112.53) rotate(-90) scale(1 1)">1</text>
<line x1="198.4" y1="369.6" x2="198.4" y2="374.46"/>
<text class="m" transform="translate(198.4 390.8) scale(1 1)">2</text>
<line x1="-4.86" y1="185.55" x2="-0" y2="185.55"/>
<text class="m" transform="translate(-13.1 186.45) rotate(-90) scale(1 1)">2</text>
<line x1="277.76" y1="369.6" x2="277.76" y2="374.46"/>
<text class="m" transform="translate(277.76 390.8) scale(1 1)">3</text>
<line x1="-4.86" y1="259.47" x2="-0" y2="259.47"/>
<text class="m" transform="translate(-13.1 260.37) rotate(-90) scale(1 1)">3</text>
<line x1="357.12" y1="369.6" x2="357.12" y2="374.46"/>
<text class="m" transform="translate(357.12 390.8) scale(1 1)">4</text>
<line x1="-4.86" y1="333.39" x2="-0" y2="333.39"/>
<text class="m" transform="translate(-13.1 334.29) rotate(-90) scale(1 1)">4</text>
<text class="m" transform="translate(198.4 409.6) scale(1 1)">Predicted labels</text>
<text class="m" transform="translate(-33 186.3) rotate(-90) scale(1 1)">True labels</text>
<rect x="421.7" y="0" width="18" height="369.6" fill="url(#blues)"/>
<line x1="439.7" y1="370.4" x2="444.56" y2="370.4"/>
<text transform="translate(450 375.3) scale(1 1)">0</text>
<line x1="439.7" y1="324.03" x2="444.56" y2="324.03"/>
<text transform="translate(450 328.93) scale(1 1)">25</text>
<line x1="439.7" y1="277.65" x2="444.56" y2="277.65"/>
<text transform="translate(450 282.55) scale(1 1)">50</text>
<line x1="439.7" y1="231.28" x2="444.56" y2="231.28"/>
<text transform="translate(450 236.18) scale(1 1)">75</text>
<line x1="439.7" y1="184.9" x2="444.56" y2="184.9"/>
<text transform="translate(450 189.8) scale(1 1)">100</text>
<line x1="439.7" y1="138.53" x2="444.56" y2="138.53"/>
<text transform="translate(450 143.43) scale(1 1)">125</text>
<line x1="439.7" y1="92.15" x2="444.56" y2="92.15"/>
<text transform="translate(450 97.05) scale(1 1)">150</text>
<line x1="439.7" y1="45.78" x2="444.56" y2="45.78"/>
<text transform="translate(450 50.68) scale(1 1)">175</text>
<line x1="439.7" y1="-0.6" x2="444.56" y2="-0.6"/>
<text transform="translate(450 4.3) scale(1 1)">200</text>
</g>
<g transform="translate(1066 1156.7) scale(1.0123 1.0390)">
<rect width="396.8" height="369.6" fill="#f7fbff"/>
<rect class="c" x="0" y="0" width="79.36" height="73.92" fill="#08306b"/>
<rect class="c" x="79.36" y="73.92" width="79.36" height="73.92" fill="#1966ad"/>
<rect class="c" x="158.72" y="73.92" width="79.36" height="73.92" fill="#cee0f2"/>
<rect class="c" x="158.72" y="147.84" width="79.36" height="73.92" fill="#08306b"/>
<rect class="c" x="238.08" y="221.76" width="79.36" height="73.92" fill="#08306b"/>
<rect class="c" x="158.72" y="295.68" width="79.36" height="73.92" fill="#dce9f6"/>
<rect class="c" x="317.44" y="295.68" width="79.36" height="73.92" fill="#0a549e"/>
<text class="m w" transform="translate(39.88 40.86) scale(1 1)">200</text>
<text class="m" transform="translate(119.24 40.86) scale(1 1)">0</text>
<text class="m" transform="translate(198.6 40.86) scale(1 1)">0</text>
<text class="m" transform="translate(277.96 40.86) scale(1 1)">0</text>
<text class="m" transform="translate(357.32 40.86) scale(1 1)">0</text>
<text class="m" transform="translate(39.88 114.78) scale(1 1)">0</text>
<text class="m w" transform="translate(119.24 114.78) scale(1 1)">158</text>
<text class="m" transform="translate(198.6 114.78) scale(1 1)">42</text>
<text class="m" transform="translate(277.96 114.78) scale(1 1)">0</text>
<text class="m" transform="translate(357.32 114.78) scale(1 1)">0</text>
<text class="m" transform="translate(39.88 188.7) scale(1 1)">0</text>
<text class="m" transform="translate(119.24 188.7) scale(1 1)">0</text>
<text class="m w" transform="translate(198.6 188.7) scale(1 1)">200</text>
<text class="m" transform="translate(277.96 188.7) scale(1 1)">0</text>
<text class="m" transform="translate(357.32 188.7) scale(1 1)">0</text>
<text class="m" transform="translate(39.88 262.62) scale(1 1)">0</text>
<text class="m" transform="translate(119.24 262.62) scale(1 1)">0</text>
<text class="m" transform="translate(198.6 262.62) scale(1 1)">0</text>
<text class="m w" transform="translate(277.96 262.62) scale(1 1)">200</text>
<text class="m" transform="translate(357.32 262.62) scale(1 1)">0</text>
<text class="m" transform="translate(39.88 336.54) scale(1 1)">0</text>
<text class="m" transform="translate(119.24 336.54) scale(1 1)">0</text>
<text class="m" transform="translate(198.6 336.54) scale(1 1)">28</text>
<text class="m" transform="translate(277.96 336.54) scale(1 1)">0</text>
<text class="m w" transform="translate(357.32 336.54) scale(1 1)">172</text>
<text class="ti m" transform="translate(198.4 -8.7) scale(1 1.11)">Confusion Matrix</text>
<line x1="39.68" y1="369.6" x2="39.68" y2="374.46"/>
<text class="m" transform="translate(39.68 390.8) scale(1 1)">0</text>
<line x1="-4.86" y1="37.71" x2="-0" y2="37.71"/>
<text class="m" transform="translate(-13.1 38.61) rotate(-90) scale(1 1)">0</text>
<line x1="119.04" y1="369.6" x2="119.04" y2="374.46"/>
<text class="m" transform="translate(119.04 390.8) scale(1 1)">1</text>
<line x1="-4.86" y1="111.63" x2="-0" y2="111.63"/>
<text class="m" transform="translate(-13.1 112.53) rotate(-90) scale(1 1)">1</text>
<line x1="198.4" y1="369.6" x2="198.4" y2="374.46"/>
<text class="m" transform="translate(198.4 390.8) scale(1 1)">2</text>
<line x1="-4.86" y1="185.55" x2="-0" y2="185.55"/>
<text class="m" transform="translate(-13.1 186.45) rotate(-90) scale(1 1)">2</text>
<line x1="277.76" y1="369.6" x2="277.76" y2="374.46"/>
<text class="m" transform="translate(277.76 390.8) scale(1 1)">3</text>
<line x1="-4.86" y1="259.47" x2="-0" y2="259.47"/>
<text class="m" transform="translate(-13.1 260.37) rotate(-90) scale(1 1)">3</text>
<line x1="357.12" y1="369.6" x2="357.12" y2="374.46"/>
<text class="m" transform="translate(357.12 390.8) scale(1 1)">4</text>
<line x1="-4.86" y1="333.39" x2="-0" y2="333.39"/>
<text class="m" transform="translate(-13.1 334.29) rotate(-90) scale(1 1)">4</text>
<text class="m" transform="translate(198.4 409.6) scale(1 1)">Predicted labels</text>
<text class="m" transform="translate(-33 186.3) rotate(-90) scale(1 1)">True labels</text>
<rect x="421.7" y="0" width="18" height="369.6" fill="url(#blues)"/>
<line x1="439.7" y1="370.4" x2="444.56" y2="370.4"/>
<text transform="translate(450 375.3) scale(1 1)">0</text>
<line x1="439.7" y1="324.03" x2="444.56" y2="324.03"/>
<text transform="translate(450 328.93) scale(1 1)">25</text>
<line x1="439.7" y1="277.65" x2="444.56" y2="277.65"/>
<text transform="translate(450 282.55) scale(1 1)">50</text>
<line x1="439.7" y1="231.28" x2="444.56" y2="231.28"/>
<text transform="translate(450 236.18) scale(1 1)">75</text>
<line x1="439.7" y1="184.9" x2="444.56" y2="184.9"/>
<text transform="translate(450 189.8) scale(1 1)">100</text>
<line x1="439.7" y1="138.53" x2="444.56" y2="138.53"/>
<text transform="translate(450 143.43) scale(1 1)">125</text>
<line x1="439.7" y1="92.15" x2="444.56" y2="92.15"/>
<text transform="translate(450 97.05) scale(1 1)">150</text>
<line x1="439.7" y1="45.78" x2="444.56" y2="45.78"/>
<text transform="translate(450 50.68) scale(1 1)">175</text>
<line x1="439.7" y1="-0.6" x2="444.56" y2="-0.6"/>
<text transform="translate(450 4.3) scale(1 1)">200</text>
</g>
</g>
<text class="cap" x="260.3" y="503.5" style="font-size:35.3px">(a) DANN</text>
<text class="cap" x="833.2" y="503.5" style="font-size:35.3px">(b) ADDA</text>
<text class="cap" x="1403.5" y="503.5" style="font-size:35.3px">(c) MFSAN</text>
<text class="cap" x="268.3" y="1052.5" style="font-size:35.3px">(d) M<tspan style="font-size:23px" dy="-16.5">3</tspan><tspan dy="16.5">SDA</tspan></text>
<text class="cap" x="833.8" y="1052" style="font-size:32.5px">(e) KDMUMDAN</text>
<text class="cap" x="1431.5" y="1052.5" style="font-size:35.3px">(f) MSSDA</text>
<text class="cap" x="523.4" y="1633" style="font-size:35.8px">(g) Ours-SCL</text>
<text class="cap" x="1259.5" y="1633.3" style="font-size:35.3px">(h) Ours</text>
<rect x="1300" y="504.9" width="210" height="11.1" fill="#fff"/>
</svg></body></html>
